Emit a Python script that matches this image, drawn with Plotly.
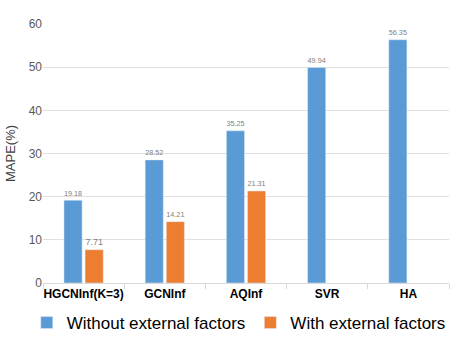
import plotly.graph_objects as go

categories = ["HGCNInf(K=3)", "GCNInf", "AQInf", "SVR", "HA"]
without_ext = [19.18, 28.52, 35.25, 49.94, 56.35]
with_ext = [7.71, 14.21, 21.31, None, None]

font_family = "Liberation Sans, Arial, sans-serif"

fig = go.Figure()
fig.add_trace(go.Bar(
    x=categories, y=without_ext, name="Without external factors",
    marker_color="#5B9BD5",
    text=[f"{v:.2f}" for v in without_ext], textposition="outside",
    textfont=dict(size=9, color="#7f7f7f"), cliponaxis=False,
))
fig.add_trace(go.Bar(
    x=categories, y=with_ext, name="With external factors",
    marker_color="#ED7D31",
    text=[f"{v:.2f}" if v is not None else "" for v in with_ext], textposition="outside",
    textfont=dict(size=9, color="#7f7f7f"), cliponaxis=False,
))

fig.update_layout(
    width=474, height=351,
    margin=dict(l=43, r=25, t=24, b=68, autoexpand=False),
    paper_bgcolor="white", plot_bgcolor="white",
    barmode="group", bargap=0.48, bargroupgap=0.14,
    font=dict(family=font_family, color="#404040"),
    showlegend=True,
    legend=dict(orientation="h", x=-0.04, xanchor="left", y=-0.085, yanchor="top",
                font=dict(size=17, color="#000000"),
                itemwidth=30, traceorder="normal", tracegroupgap=0),
    xaxis=dict(showgrid=False, showline=True, linecolor="#d9d9d9", tickangle=0,
               ticks="outside", ticklen=5, tickcolor="#d9d9d9", tickson="boundaries",
               tickfont=dict(size=12, color="#000000", family=font_family, weight="bold")),
    yaxis=dict(range=[0, 60], dtick=10, showgrid=True, gridcolor="#e0e0e0",
               zeroline=False, showline=False,
               tickfont=dict(size=12, color="#595959"),
               title=dict(text="MAPE(%)", font=dict(size=13, color="#404040"), standoff=10)),
)

fig.write_html("out.html")
